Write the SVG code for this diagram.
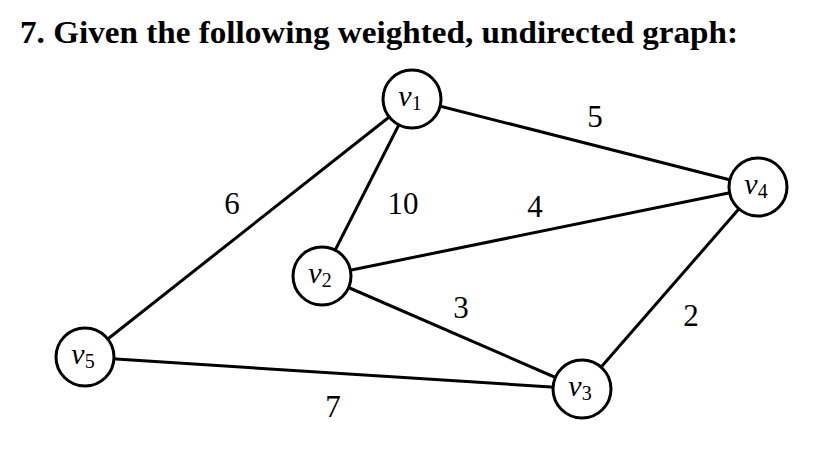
<svg xmlns="http://www.w3.org/2000/svg" width="821" height="467" viewBox="0 0 821 467">
<style>
.n{fill:#fff;stroke:#000;stroke-width:3}
.e{stroke:#000;stroke-width:3;fill:none}
.t{font-family:"Liberation Serif",serif;font-size:31px;text-anchor:middle}
.v{font-family:"Liberation Serif",serif;font-size:30px;font-style:italic;text-anchor:middle}
.s{font-size:20px;font-style:normal}
</style>
<rect width="821" height="467" fill="#fff"/>
<text x="20" y="43" font-family="Liberation Serif,serif" font-size="32" font-weight="bold" textLength="718" lengthAdjust="spacingAndGlyphs">7. Given the following weighted, undirected graph:</text>
<g id="edges">
<line class="e" x1="412" y1="99" x2="758" y2="187"/>
<line class="e" x1="412" y1="99" x2="85" y2="357"/>
<line class="e" x1="412" y1="99" x2="322" y2="276"/>
<line class="e" x1="322" y1="276" x2="758" y2="187"/>
<line class="e" x1="322" y1="276" x2="582" y2="389"/>
<line class="e" x1="758" y1="187" x2="582" y2="389"/>
<line class="e" x1="85" y1="357" x2="582" y2="389"/>
<text class="t" x="595" y="127">5</text>
<text class="t" x="232" y="214">6</text>
<text class="t" x="403" y="214">10</text>
<text class="t" x="535" y="217">4</text>
<text class="t" x="461" y="318">3</text>
<text class="t" x="691" y="326">2</text>
<text class="t" x="333" y="417">7</text>
</g>
<g id="v1"><circle class="n" cx="412" cy="99" r="29"/><text class="v" x="410" y="106">v<tspan class="s" dy="4">1</tspan></text></g>
<g id="v4"><circle class="n" cx="758" cy="187" r="29"/><text class="v" x="756" y="194">v<tspan class="s" dy="4">4</tspan></text></g>
<g id="v2"><circle class="n" cx="322" cy="276" r="29"/><text class="v" x="320" y="283">v<tspan class="s" dy="4">2</tspan></text></g>
<g id="v5"><circle class="n" cx="85" cy="357" r="29"/><text class="v" x="83" y="364">v<tspan class="s" dy="4">5</tspan></text></g>
<g id="v3"><circle class="n" cx="582" cy="389" r="29"/><text class="v" x="580" y="396">v<tspan class="s" dy="4">3</tspan></text></g>
</svg>
